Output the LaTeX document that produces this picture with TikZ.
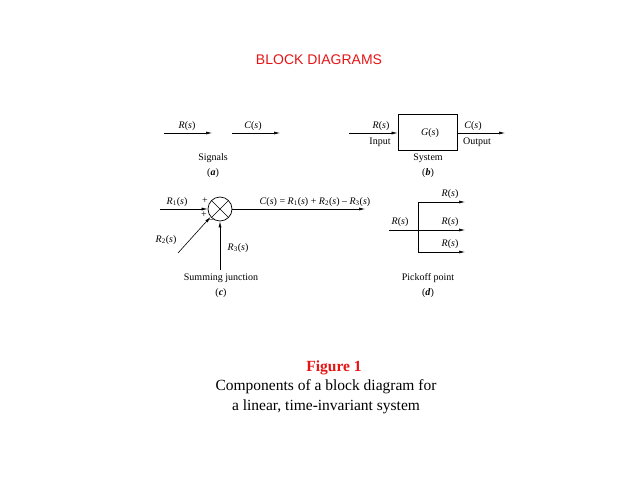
\documentclass[tikz,border=0pt]{standalone}
\usepackage{fontspec}
\setmainfont{Liberation Serif}
\newfontfamily\sansf{Liberation Sans}
\usetikzlibrary{arrows.meta}
\newcommand{\fn}[1]{\textit{#1}(\textit{s})}
\newcommand{\fs}[2]{\textit{#1}\textsubscript{#2}(\textit{s})}
\begin{document}
\begin{tikzpicture}[x=1pt,y=-1pt,
  sig/.style={-{Latex[length=6pt,width=3pt]},line width=0.6pt},
  ln/.style={line width=0.6pt},
  lb/.style={font=\fontsize{10}{11}\selectfont,inner sep=0pt},
  captxt/.style={font=\fontsize{15.5}{18}\selectfont,inner sep=0pt}]
\useasboundingbox (0,0) rectangle (638,493);
\node[font=\sansf\fontsize{14}{16}\selectfont,text={rgb,255:red,230;green,20;blue,20},inner sep=0pt] (title) at (319,60) {BLOCK DIAGRAMS};
% (a)
\coordinate (a1) at (164,133); \coordinate (a2) at (212,133);
\coordinate (a3) at (232,133); \coordinate (a4) at (280,133);
\draw[sig] (a1) -- (a2); \draw[sig] (a3) -- (a4);
\node[lb] (ra) at (187,126) {\fn{R}};
\node[lb] (ca) at (253,126) {\fn{C}};
\node[lb] (siga) at (213,158) {Signals};
\node[lb] (la) at (213,173) {(\textbf{\textit{a}})};
% (b)
\node[draw,line width=0.8pt,minimum width=59pt,minimum height=36pt,inner sep=0pt] (G) at (427.5,132) {};
\node[lb] (Gl) at (430,133) {\fn{G}};
\coordinate (b1) at (349,133); \coordinate (b2) at (505,133);
\draw[sig] (b1) -- (G.west|-b1);
\draw[sig] (G.east|-b2) -- (b2);
\node[lb] (rb) at (381,126) {\fn{R}};
\node[lb] (inb) at (380,142) {Input};
\node[lb] (cb) at (473,126) {\fn{C}};
\node[lb] (outb) at (477,142) {Output};
\node[lb] (sysb) at (428,158) {System};
\node[lb] (lb2) at (428,173) {(\textbf{\textit{b}})};
% (c)
\node[draw,circle,line width=0.7pt,minimum size=24pt,inner sep=0pt] (S) at (220,209) {};
\draw[ln] (S.45) -- (S.225) (S.135) -- (S.315);
\coordinate (c1) at (160,209); \coordinate (c2) at (365,209);
\coordinate (c3) at (178,253); \coordinate (c4) at (220,270);
\draw[sig] (c1) -- (S.west);
\draw[sig] (S.east) -- (c2);
\draw[sig] (c3) -- (S.220);
\draw[sig] (c4) -- (S.south);
\node[lb] (r1) at (177,202) {\fs{R}{1}};
\node[lb] (p1) at (205,201) {+};
\node[lb] (p2) at (204,215) {+};
\node[lb] (m1) at (211,221) {\textendash};
\node[lb] (r2) at (166,240) {\fs{R}{2}};
\node[lb] (r3) at (238,248) {\fs{R}{3}};
\node[lb] (eq) at (315,202) {\fn{C} = \fs{R}{1} + \fs{R}{2} \textendash{} \fs{R}{3}};
\node[lb] (sj) at (221,278) {Summing junction};
\node[lb] (lc) at (221,293) {(\textbf{\textit{c}})};
% (d)
\coordinate (d0) at (389,230); \coordinate (dj) at (418,230);
\coordinate (dt) at (418,202); \coordinate (db) at (418,252);
\coordinate (e1) at (465,202); \coordinate (e2) at (465,230); \coordinate (e3) at (465,252);
\draw[ln] (d0) -- (dj); \draw[ln] (dt) -- (db);
\draw[sig] (dt) -- (e1); \draw[sig] (dj) -- (e2); \draw[sig] (db) -- (e3);
\node[lb] (rd0) at (400,222) {\fn{R}};
\node[lb] (rd1) at (450,194) {\fn{R}};
\node[lb] (rd2) at (450,222) {\fn{R}};
\node[lb] (rd3) at (450,244) {\fn{R}};
\node[lb] (pp) at (428,278) {Pickoff point};
\node[lb] (ld) at (428,293) {(\textbf{\textit{d}})};
% caption
\node[captxt,font=\bfseries\fontsize{15.5}{18}\selectfont,text={rgb,255:red,230;green,20;blue,20}] (f1) at (334,368) {Figure 1};
\node[captxt] (f2) at (326,387) {Components of a block diagram for};
\node[captxt] (f3) at (326,407) {a linear, time-invariant system};
\end{tikzpicture}
\end{document}
